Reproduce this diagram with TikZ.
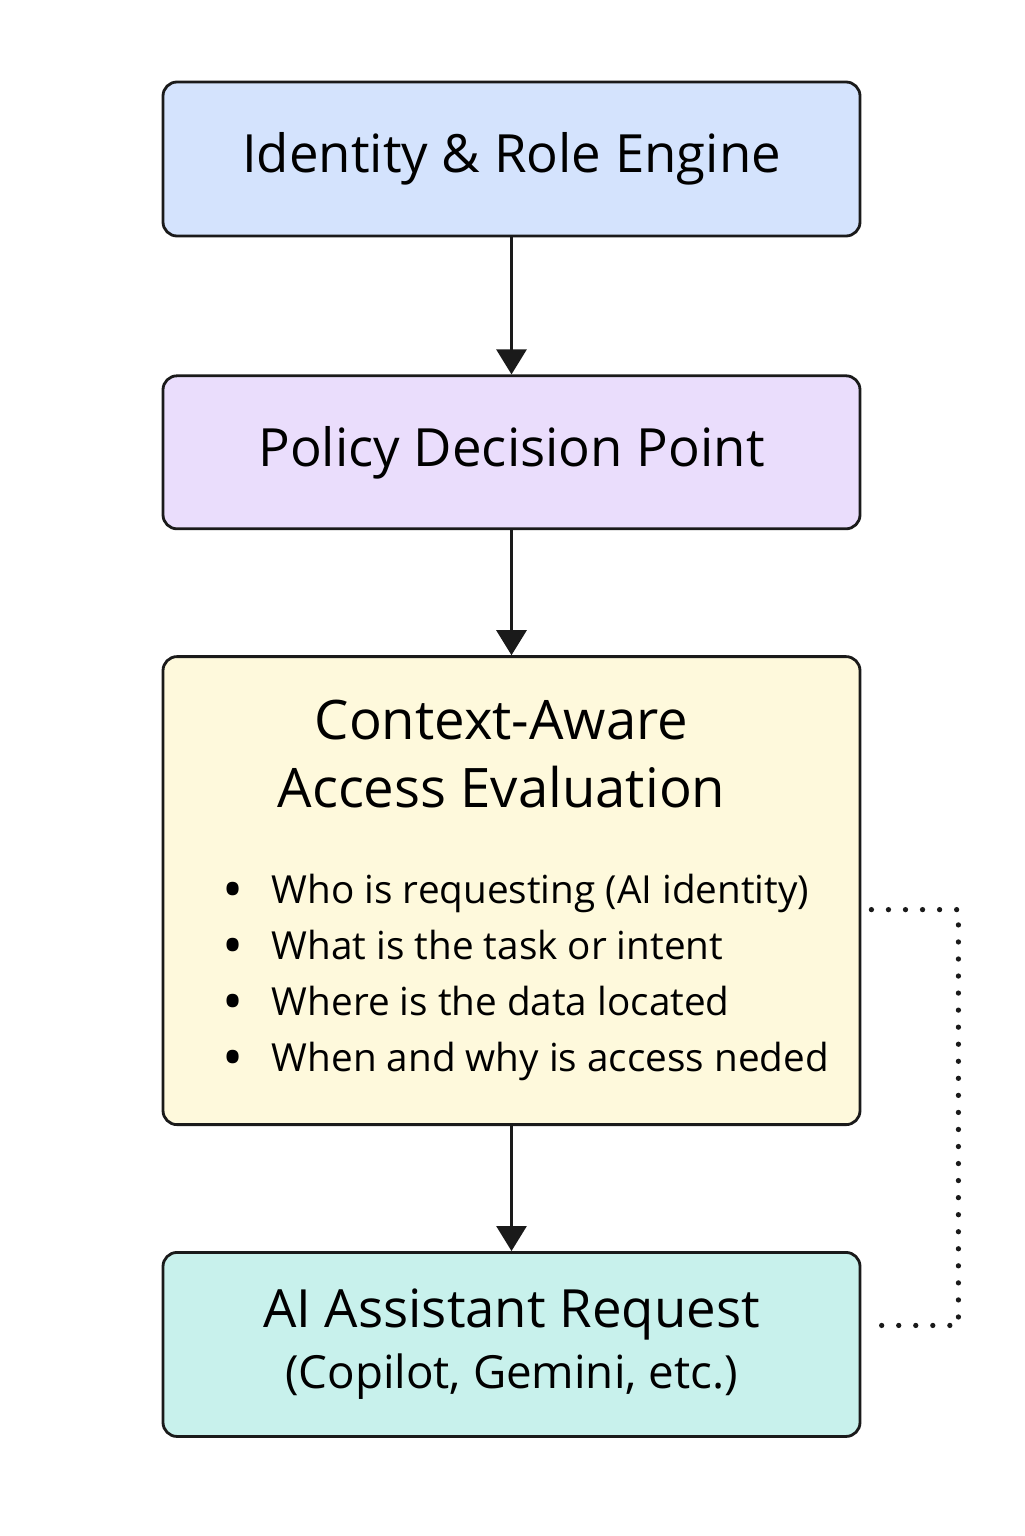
\documentclass[tikz,border=0pt]{standalone}
\usepackage{fontspec}
\setmainfont{Open Sans}
\usepackage{xcolor}
\usepackage{tikz}
\usetikzlibrary{arrows.meta,positioning}
\definecolor{engineblue}{RGB}{212,227,253}
\definecolor{policylilac}{RGB}{234,221,252}
\definecolor{ctxyellow}{RGB}{254,249,220}
\definecolor{asstteal}{RGB}{200,241,236}
\definecolor{inkdark}{RGB}{26,26,26}
\newcommand{\ctxitem}{\makebox[0.98cm][l]{\raisebox{-0.13cm}{\scalebox{1.45}{\textbullet}}}}

\begin{document}
\begin{tikzpicture}[
  abox/.style={draw=inkdark,line width=1.6pt,rounded corners=0.28cm,align=center,
               minimum width=13.94cm,minimum height=3.08cm,font=\fontsize{30}{36}\selectfont},
  aarr/.style={-{Triangle[length=0.5cm,width=0.6cm]},line width=1.6pt,draw=inkdark},
  dotlink/.style={line width=3pt,line cap=round,dash pattern=on 0pt off 9.7pt,draw=inkdark}
]
\useasboundingbox[fill=white] (0,0) rectangle (20.48,-30.72);
\node[abox,fill=engineblue] (engine) at (10.23,-3.18) {Identity \& Role Engine};
\node[abox,fill=policylilac,minimum height=3.06cm,below=2.74cm of engine] (policy) {Policy Decision Point};
\node[abox,fill=ctxyellow,minimum height=9.36cm,below=2.5cm of policy] (context) {};
\node[font=\fontsize{31}{38.7}\selectfont,align=center] (ctxtitle)
  at ([xshift=-0.2cm,yshift=-1.98cm]context.north) {Context-Aware\\Access Evaluation};
\node[font=\fontsize{22}{31.9}\selectfont,align=left,anchor=west] (ctxlist)
  at ([xshift=1.1cm,yshift=-6.44cm]context.north west)
  {\ctxitem Who is requesting (AI identity)\\
   \ctxitem What is the task or intent\\
   \ctxitem Where is the data located\\
   \ctxitem When and why is access neded};
\node[abox,fill=asstteal,minimum height=3.68cm,below=2.5cm of context] (assistant)
  {AI Assistant Request\\[-0.05cm]{\fontsize{26}{30}\selectfont(Copilot, Gemini, etc.)}};
\draw[aarr] (engine)--(policy);
\draw[aarr] (policy)--(context);
\draw[aarr] (context)--(assistant);
\draw[dotlink,shorten <=0.2cm,shorten >=0.2cm] ([yshift=-0.38cm]context.east) -- ++(1.94,0)
  |- ([yshift=0.38cm]assistant.east);
\end{tikzpicture}
\end{document}
